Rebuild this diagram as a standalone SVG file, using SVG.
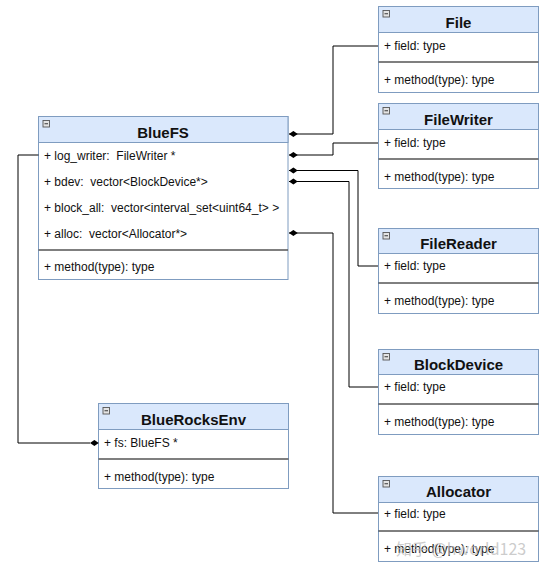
<svg xmlns="http://www.w3.org/2000/svg" width="549" height="574" viewBox="0 0 549 574">
<style>
.box{fill:#ffffff;stroke:#7f9cc0;stroke-width:1}
.hdr{fill:#dae8fc;stroke:#7f9cc0;stroke-width:1}
.sep{stroke:#555;stroke-width:1.5}
.title{font-family:"Liberation Sans",Arial,sans-serif;font-size:15px;font-weight:bold;fill:#111;text-anchor:middle}
.txt{font-family:"Liberation Sans",Arial,sans-serif;font-size:12px;fill:#111;white-space:pre}
.ico{fill:#e4e4e4;stroke:#555;stroke-width:0.9}
.conn{fill:none;stroke:#000;stroke-width:1}
.wm{font-family:"Noto Sans CJK SC","Liberation Sans",sans-serif;font-size:16px;fill:#bbbbbb;fill-opacity:0.75}
</style>
<defs>
<marker id="dia" viewBox="0 0 10 8" refX="0" refY="4" markerWidth="9" markerHeight="7" markerUnits="userSpaceOnUse" orient="auto">
<path d="M0,4 L5,0.5 L10,4 L5,7.5 Z" fill="#000"/>
</marker>
</defs>

<g id="BlueFS">
<rect class="box" x="38.5" y="116.5" width="249.5" height="163"/>
<rect class="hdr" x="38.5" y="116.5" width="249.5" height="26"/>
<rect class="ico" x="43" y="120.5" width="6.5" height="6.5"/>
<line x1="44.5" y1="123.75" x2="48" y2="123.75" stroke="#222" stroke-width="0.9"/>
<text class="title" x="163" y="138">BlueFS</text>
<text class="txt" x="44" y="160">+ log_writer:  FileWriter *</text>
<text class="txt" x="44" y="186">+ bdev:  vector&lt;BlockDevice*&gt;</text>
<text class="txt" x="44" y="212">+ block_all:  vector&lt;interval_set&lt;uint64_t&gt; &gt;</text>
<text class="txt" x="44" y="238">+ alloc:  vector&lt;Allocator*&gt;</text>
<line class="sep" x1="38.5" y1="250" x2="288" y2="250"/>
<text class="txt" x="44" y="271">+ method(type): type</text>
</g>

<g id="File">
<rect class="box" x="378.5" y="6.5" width="160" height="86"/>
<rect class="hdr" x="378.5" y="6.5" width="160" height="26"/>
<rect class="ico" x="383" y="10.5" width="6.5" height="6.5"/>
<line x1="384.5" y1="13.75" x2="388" y2="13.75" stroke="#222" stroke-width="0.9"/>
<text class="title" x="458.5" y="28">File</text>
<text class="txt" x="384" y="50">+ field: type</text>
<line class="sep" x1="378.5" y1="62" x2="538.5" y2="62"/>
<text class="txt" x="384" y="84">+ method(type): type</text>
</g>

<g id="FileWriter">
<rect class="box" x="378.5" y="103.5" width="160" height="85"/>
<rect class="hdr" x="378.5" y="103.5" width="160" height="26"/>
<rect class="ico" x="383" y="107.5" width="6.5" height="6.5"/>
<line x1="384.5" y1="110.75" x2="388" y2="110.75" stroke="#222" stroke-width="0.9"/>
<text class="title" x="458.5" y="125">FileWriter</text>
<text class="txt" x="384" y="147">+ field: type</text>
<line class="sep" x1="378.5" y1="159" x2="538.5" y2="159"/>
<text class="txt" x="384" y="181">+ method(type): type</text>
</g>

<g id="FileReader">
<rect class="box" x="378.5" y="228.5" width="160" height="85"/>
<rect class="hdr" x="378.5" y="228.5" width="160" height="25"/>
<rect class="ico" x="383" y="232.5" width="6.5" height="6.5"/>
<line x1="384.5" y1="235.75" x2="388" y2="235.75" stroke="#222" stroke-width="0.9"/>
<text class="title" x="458.5" y="249">FileReader</text>
<text class="txt" x="384" y="270">+ field: type</text>
<line x1="378.5" y1="283" x2="538.5" y2="283" stroke="#000" stroke-width="1"/>
<text class="txt" x="384" y="305">+ method(type): type</text>
</g>

<g id="BlockDevice">
<rect class="box" x="378.5" y="349.5" width="160" height="85"/>
<rect class="hdr" x="378.5" y="349.5" width="160" height="25"/>
<rect class="ico" x="383" y="353.5" width="6.5" height="6.5"/>
<line x1="384.5" y1="356.75" x2="388" y2="356.75" stroke="#222" stroke-width="0.9"/>
<text class="title" x="458.5" y="370">BlockDevice</text>
<text class="txt" x="384" y="391">+ field: type</text>
<line x1="378.5" y1="404" x2="538.5" y2="404" stroke="#000" stroke-width="1"/>
<text class="txt" x="384" y="426">+ method(type): type</text>
</g>

<g id="Allocator">
<rect class="box" x="378.5" y="476.5" width="160" height="85"/>
<rect class="hdr" x="378.5" y="476.5" width="160" height="26"/>
<rect class="ico" x="383" y="480.5" width="6.5" height="6.5"/>
<line x1="384.5" y1="483.75" x2="388" y2="483.75" stroke="#222" stroke-width="0.9"/>
<text class="title" x="458.5" y="497">Allocator</text>
<text class="txt" x="384" y="518">+ field: type</text>
<line x1="378.5" y1="531" x2="538.5" y2="531" stroke="#000" stroke-width="1"/>
<text class="txt" x="384" y="553">+ method(type): type</text>
</g>

<g id="BlueRocksEnv">
<rect class="box" x="98.5" y="403.5" width="190" height="85"/>
<rect class="hdr" x="98.5" y="403.5" width="190" height="26"/>
<rect class="ico" x="103" y="407.5" width="6.5" height="6.5"/>
<line x1="104.5" y1="410.75" x2="108" y2="410.75" stroke="#222" stroke-width="0.9"/>
<text class="title" x="193.5" y="425">BlueRocksEnv</text>
<text class="txt" x="104" y="447">+ fs: BlueFS *</text>
<line class="sep" x1="98.5" y1="459" x2="288.5" y2="459"/>
<text class="txt" x="104" y="481">+ method(type): type</text>
</g>

<g id="connectors">
<path class="conn" d="M289,134 H333 V46 H378" marker-start="url(#dia)"/>
<path class="conn" d="M289,155 H333 V143 H378" marker-start="url(#dia)"/>
<path class="conn" d="M289,170.5 H358 V266 H378" marker-start="url(#dia)"/>
<path class="conn" d="M289,181.5 H349 V387 H378" marker-start="url(#dia)"/>
<path class="conn" d="M289,233 H333 V513 H378" marker-start="url(#dia)"/>
<path class="conn" d="M38.5,155 H18 V443 H90" marker-end="url(#dia)"/>
</g>

<text class="wm" x="396" y="555">知乎 @hworld123</text>
</svg>
